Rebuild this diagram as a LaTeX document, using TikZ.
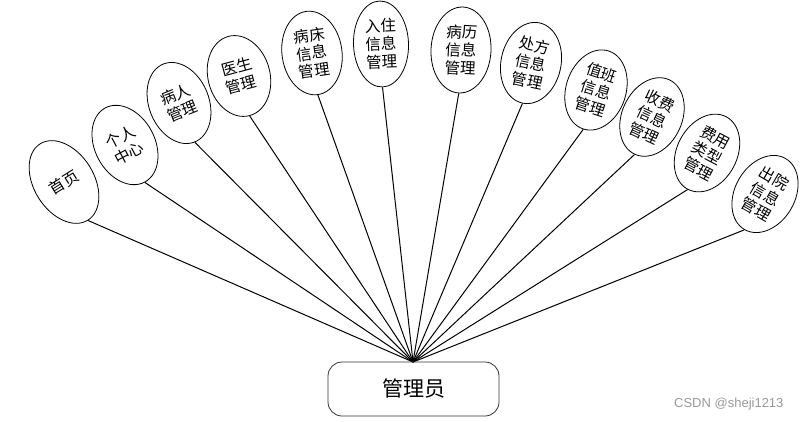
\documentclass[tikz,border=0pt]{standalone}
\usepackage{fontspec}
\newfontfamily\cjk{Noto Sans CJK SC}
\setmainfont{Liberation Sans}
\usetikzlibrary{shapes.geometric}
\begin{document}
\begin{tikzpicture}[x=1pt,y=1pt,
  bubble/.style={draw=black, line width=0.8pt, ellipse, minimum width=60pt, minimum height=86pt, inner sep=0pt, align=center, font=\cjk\fontsize{15.5}{18}\selectfont},
  link/.style={draw=black, line width=1pt},
  rootbox/.style={draw=black!80, line width=0.8pt, rounded corners=14pt, minimum width=171pt, minimum height=54pt, inner sep=0pt, font=\cjk\fontsize{21}{24}\selectfont}]
\useasboundingbox[fill=white] (0,0) rectangle (802,421);
\coordinate (apex) at (413,59);
\node[bubble, rotate=32, minimum height=90pt] (n1) at (64,239) {首页};
\node[bubble, rotate=28, minimum height=84pt] (n2) at (125,276) {个人\\中心};
\node[bubble, rotate=22, minimum height=84pt] (n3) at (179,318) {病人\\管理};
\node[bubble, rotate=15, minimum height=82pt, minimum width=62pt] (n4) at (239,345) {医生\\管理};
\node[bubble, rotate=8, minimum height=84pt] (n5) at (312,368) {病床\\信息\\管理};
\node[bubble, rotate=2, minimum width=55pt] (n6) at (381,377) {入住\\信息\\管理};
\node[bubble, rotate=-3] (n7) at (461,371) {病历\\信息\\管理};
\node[bubble, rotate=-12, minimum height=82pt] (n8) at (531,358) {处方\\信息\\管理};
\node[bubble, rotate=-18, minimum height=82pt] (n9) at (596,331) {值班\\信息\\管理};
\node[bubble, rotate=-25, minimum height=82pt] (n10) at (652,304) {收费\\信息\\管理};
\node[bubble, rotate=-28, minimum height=82pt] (n11) at (707,268) {费用\\类型\\管理};
\node[bubble, rotate=-30, minimum height=82pt] (n12) at (765,227) {出院\\信息\\管理};
\foreach \i in {1,...,12} { \draw[link] (n\i.south) -- (apex); }
\node[rootbox] (root) at (413.5,32) {管理员};
\node[text=black!40, font=\fontsize{13}{15}\selectfont, anchor=east] (wm) at (787,17) {CSDN @sheji1213};
\end{tikzpicture}
\end{document}
